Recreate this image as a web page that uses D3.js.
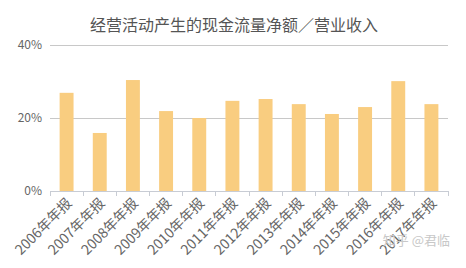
<!DOCTYPE html>
<html><head><meta charset="utf-8">
<script src="https://cdn.jsdelivr.net/npm/d3@7"></script>
<style>body{margin:0;background:#fff}svg{display:block}text{font-family:"Microsoft YaHei","Noto Sans CJK SC",sans-serif}</style>
</head><body>
<svg id="c" width="466" height="268"></svg>
<script>
const categories = ["2006年年报","2007年年报","2008年年报","2009年年报","2010年年报","2011年年报","2012年年报","2013年年报","2014年年报","2015年年报","2016年年报","2017年年报"];
const values = [0.269, 0.159, 0.304, 0.219, 0.200, 0.247, 0.252, 0.238, 0.211, 0.230, 0.301, 0.238];
const yTicks = [0, 0.2, 0.4];
const title = "经营活动产生的现金流量净额／营业收入";

const svg = d3.select("#c");
const m = {l:50, r:18, t:45, b:77};
const W = 466, H = 268;
const x = d3.scaleBand().domain(categories).range([m.l, W - m.r]).paddingInner(0.58).paddingOuter(0.29);
const y = d3.scaleLinear().domain([0, 0.4]).range([H - m.b, m.t]);

svg.append("text").attr("x", 234).attr("y", 31).attr("text-anchor","middle")
  .attr("font-size", 16).attr("fill", "#555").text(title);

const grid = svg.append("g");
grid.selectAll("line").data(yTicks.filter(d => d > 0)).join("line")
  .attr("x1", m.l).attr("x2", W - m.r).attr("y1", d => y(d)).attr("y2", d => y(d))
  .attr("stroke", "#c8c8c8").attr("stroke-width", 1).attr("shape-rendering","crispEdges");

const ya = svg.append("g").attr("transform", `translate(${m.l},0)`)
  .call(d3.axisLeft(y).tickValues(yTicks).tickFormat(d3.format(".0%")).tickSize(0).tickPadding(8));
ya.select(".domain").remove();
ya.selectAll("text").attr("font-size", 12).attr("fill", "#666");

svg.selectAll("rect.bar").data(values).join("rect").attr("class","bar")
  .attr("x", (d,i) => x(categories[i])).attr("width", x.bandwidth())
  .attr("y", d => y(d)).attr("height", d => y(0) - y(d)).attr("fill", "#F9CD80");

const xa = svg.append("g").attr("transform", `translate(0,${y(0)})`)
  .call(d3.axisBottom(x).tickSize(0).tickPadding(0));
xa.select(".domain").attr("stroke", "#c8ccd4");
const bounds = d3.range(categories.length + 1).map(i => m.l + i * (W - m.l - m.r) / categories.length);
svg.append("g").selectAll("line").data(bounds).join("line")
  .attr("x1", d => d).attr("x2", d => d).attr("y1", y(0)).attr("y2", y(0) + 5)
  .attr("stroke", "#c8ccd4").attr("shape-rendering","crispEdges");
xa.selectAll("text").attr("font-size", 14).attr("fill", "#666")
  .attr("text-anchor", "end").attr("dy", null)
  .attr("transform", "translate(6,13) rotate(-45)");

svg.append("text").attr("x", 450).attr("y", 245).attr("text-anchor","end")
  .attr("font-size", 13).attr("fill", "#c8c8c8").text("知乎 @君临");
</script>
</body></html>
